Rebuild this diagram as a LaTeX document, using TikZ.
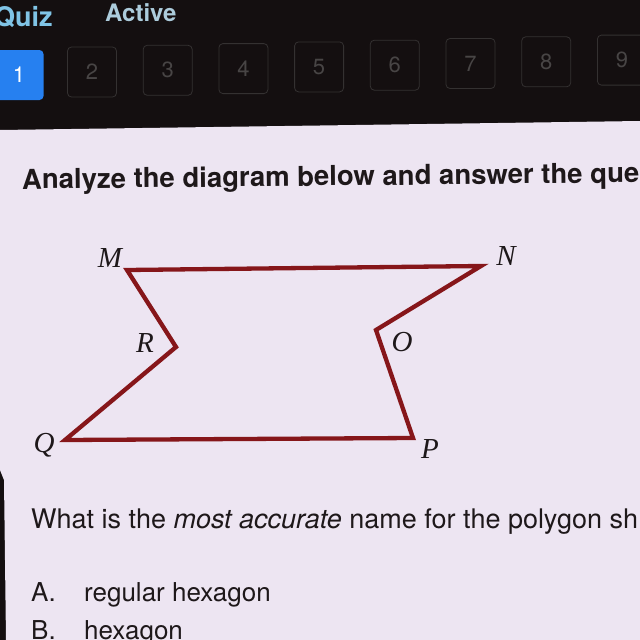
\documentclass[tikz,border=0pt]{standalone}
\usepackage{fontspec}
\setmainfont{TeX Gyre Heros}
\newfontfamily\labelFont{Liberation Serif}
\usetikzlibrary{positioning}
\definecolor{screenBlack}{RGB}{20,15,16}
\definecolor{pageColor}{RGB}{237,229,242}
\definecolor{edgeColor}{RGB}{134,22,26}
\definecolor{quizBlue}{RGB}{128,196,230}
\definecolor{activeColor}{RGB}{172,204,220}
\definecolor{tabBlue}{RGB}{38,128,240}
\definecolor{tabLine}{RGB}{52,49,49}
\definecolor{tabText}{RGB}{72,69,69}
\definecolor{inkColor}{RGB}{30,24,26}
\tikzstyle{screen} = [x = 1pt, y = -1pt]
\tikzstyle{tabBox} = [draw=tabLine, thick, rounded corners = 4pt, minimum width = 49pt, minimum height = 50pt, inner sep = 0pt, text=tabText, font=\fontsize{22}{22}\selectfont]
\tikzstyle{headText} = [anchor=base west, inner sep = 0pt, text=inkColor, font=\fontsize{27.5}{30}\selectfont\bfseries]
\tikzstyle{bodyText} = [anchor=base west, inner sep = 0pt, text=inkColor, font=\fontsize{27}{30}\selectfont]
\tikzstyle{answerText} = [anchor=base west, inner sep = 0pt, text=inkColor, font=\fontsize{26}{30}\selectfont]
\tikzstyle{edgeLine} = [color=edgeColor, line width = 4.3pt]
\tikzstyle{vertexText} = [text=inkColor, inner sep = 0pt, font=\fontsize{29}{29}\selectfont\labelFont\itshape]
\newcommand{\vertexLabel}[3]{\node [vertexText] (label#1) at (#2,#3) {#1};}

\begin{document}
\begin{tikzpicture}[screen]
  \useasboundingbox (0,0) rectangle (640,640);
  \clip (0,0) rectangle (640,640);
  % screen and page
  \fill [screenBlack] (0,0) rectangle (640,640);
  \fill [pageColor] (0,130) -- (640,121) -- (640,640) -- (6,640) -- (4,480) -- (0,470) -- cycle;

  % quiz bar
  \node [anchor=west, inner sep = 0pt, text=quizBlue, font=\fontsize{27}{27}\selectfont\bfseries] (quiz) at (-6,17) {Quiz};
  \node [anchor=west, inner sep = 0pt, text=activeColor, font=\fontsize{24}{24}\selectfont\bfseries] (active) at (105,13) {Active};
  \node [tabBox, fill=tabBlue, draw=none, text=white] (tab1) at (19,75) {1};
  \foreach \number in {2,...,9} {
    \pgfmathsetmacro{\tabX}{92 + (\number - 2) * 75.7}
    \pgfmathsetmacro{\tabY}{72 - (\number - 2) * 1.7}
    \node [tabBox] (tab\number) at (\tabX,\tabY) {\number};
  }

  % question
  \node [headText, rotate = 0.6] (heading) at (22,189) {Analyze the diagram below and answer the que};

  % polygon
  \coordinate (M) at (127,270);
  \coordinate (N) at (481,266);
  \coordinate (O) at (376,330);
  \coordinate (P) at (413,438);
  \coordinate (Q) at (65,440);
  \coordinate (R) at (176,347);
  \draw [edgeLine] (M) -- (N) -- (O) -- (P) -- (Q) -- (R) -- cycle;
  \vertexLabel{M}{110}{258}
  \vertexLabel{N}{506}{256}
  \vertexLabel{R}{145}{343}
  \vertexLabel{O}{402}{342}
  \vertexLabel{Q}{44}{445}
  \vertexLabel{P}{430}{449}

  \node [bodyText] (prompt) at (31,528) {What is the \textit{most accurate} name for the polygon sh};
  \node [answerText] (letterA) at (31,601) {A.};
  \node [answerText] (answerA) at (84,601) {regular hexagon};
  \node [answerText] (letterB) at (31,639) {B.};
  \node [answerText] (answerB) at (84,639) {hexagon};
\end{tikzpicture}
\end{document}
